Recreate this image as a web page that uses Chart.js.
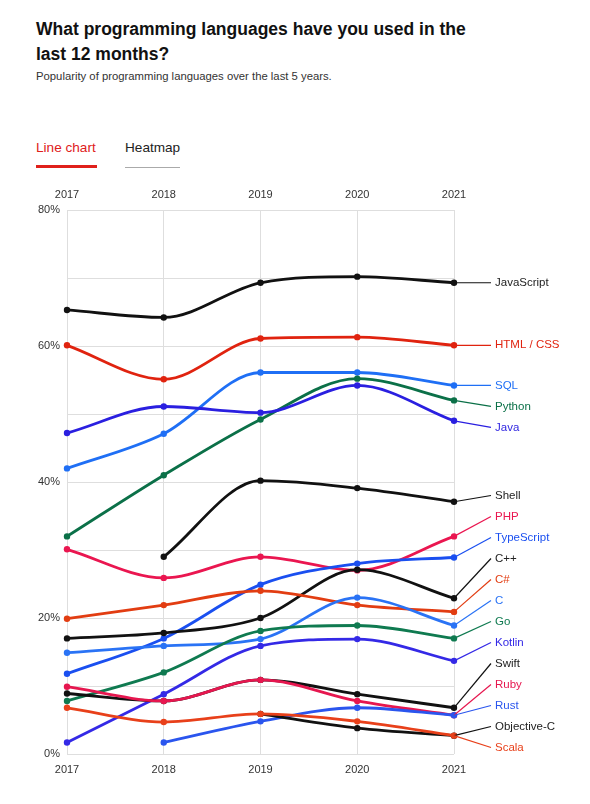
<!DOCTYPE html>
<html><head><meta charset="utf-8">
<script src="https://cdn.jsdelivr.net/npm/chart.js@4/dist/chart.umd.min.js"></script>
<style>
body{margin:0;background:#fff;font-family:'Liberation Sans',Arial,sans-serif;width:590px;height:804px;overflow:hidden;position:relative}
h1{position:absolute;left:36px;top:17px;margin:0;font-size:17.5px;line-height:25px;font-weight:bold;color:#111}
.sub{position:absolute;left:36px;top:70px;font-size:11.3px;color:#333}
.tab{position:absolute;top:139.5px;font-size:13.6px;line-height:15px}
.t1{left:36px;color:#e0201b}
.t2{left:125px;color:#222}
.u1{position:absolute;left:36px;top:165px;width:61px;height:2.5px;background:#e0201b}
.u2{position:absolute;left:125px;top:166.5px;width:55px;height:1px;background:#aaa}
#wrap{position:absolute;left:0;top:180px;width:590px;height:610px}
</style></head>
<body>
<h1>What programming languages have you used in the<br>last 12 months?</h1>
<div class="sub">Popularity of programming languages over the last 5 years.</div>
<div class="tab t1">Line chart</div><div class="u1"></div>
<div class="tab t2">Heatmap</div><div class="u2"></div>
<div id="wrap"><canvas id="c"></canvas></div>
<script>
const years = ['2017','2018','2019','2020','2021'];
const yTicks = [0, 20, 40, 60, 80];

const javascript = [65.3, 64.2, 69.3, 70.2, 69.3];
const htmlCss    = [60.1, 55.1, 61.1, 61.3, 60.1];
const sql        = [42.0, 47.1, 56.1, 56.1, 54.2];
const python     = [32.0, 41.0, 49.2, 55.2, 52.0];
const java       = [47.2, 51.1, 50.2, 54.2, 49.0];
const shell      = [null, 29.0, 40.2, 39.1, 37.1];
const php        = [30.1, 25.9, 29.0, 27.0, 32.0];
const typescript = [11.8, 17.0, 24.9, 28.0, 28.9];
const cpp        = [17.0, 17.8, 20.0, 27.1, 22.9];
const csharp     = [19.9, 21.9, 24.0, 21.9, 20.9];
const cLang      = [14.9, 15.9, 16.9, 23.0, 18.9];
const go         = [7.8, 12.0, 18.1, 18.9, 17.0];
const kotlin     = [1.7, 8.8, 15.9, 16.9, 13.7];
const swift      = [8.9, 7.8, 10.9, 8.8, 6.8];
const ruby       = [9.9, 7.8, 10.9, 7.8, 5.7];
const rust       = [null, 1.7, 4.8, 6.8, 5.7];
const objectiveC = [null, null, 5.9, 3.8, 2.7];
const scala      = [6.8, 4.7, 5.9, 4.8, 2.7];

const series = [
  ['JavaScript', javascript, '#111111'],
  ['HTML / CSS', htmlCss, '#e0230f'],
  ['SQL', sql, '#1f6ff5'],
  ['Python', python, '#0b7048'],
  ['Java', java, '#2a1fe0'],
  ['Shell', shell, '#111111'],
  ['PHP', php, '#ea1650'],
  ['TypeScript', typescript, '#1a4ff0'],
  ['C++', cpp, '#111111'],
  ['C#', csharp, '#e23d12'],
  ['C', cLang, '#2a73f5'],
  ['Go', go, '#0f7a50'],
  ['Kotlin', kotlin, '#3429e6'],
  ['Swift', swift, '#111111'],
  ['Ruby', ruby, '#e6174f'],
  ['Rust', rust, '#2a55ee'],
  ['Objective-C', objectiveC, '#111111'],
  ['Scala', scala, '#e8401a']
];

Chart.defaults.font.family = "'Liberation Sans', Arial, sans-serif";

const endLabels = {
  id: 'endLabels',
  afterDatasetsDraw(chart) {
    const {ctx, chartArea} = chart;
    const items = chart.data.datasets.map((ds, i) => {
      const meta = chart.getDatasetMeta(i);
      const pt = meta.data[meta.data.length - 1];
      return {ds, x: pt.x, y: pt.y, ly: pt.y};
    });
    const s = items.slice().sort((a, b) => a.y - b.y);
    const gap = 21, bottom = chartArea.bottom - 6.5;
    for (let k = 1; k < s.length; k++) s[k].ly = Math.max(s[k].ly, s[k-1].ly + gap);
    if (s[s.length-1].ly > bottom) s[s.length-1].ly = bottom;
    for (let k = s.length - 2; k >= 0; k--) s[k].ly = Math.min(s[k].ly, s[k+1].ly - gap);
    ctx.save();
    items.forEach(it => {
      const c = it.ds.borderColor;
      ctx.strokeStyle = c;
      ctx.lineWidth = 1.2;
      ctx.beginPath();
      ctx.moveTo(it.x, it.y);
      ctx.lineTo(chartArea.right + 37, it.ly);
      ctx.stroke();
      ctx.fillStyle = c === '#111111' ? '#222' : c;
      ctx.font = "11.5px 'Liberation Sans', Arial, sans-serif";
      ctx.textBaseline = 'middle';
      ctx.textAlign = 'left';
      ctx.fillText(it.ds.label, chartArea.right + 41, it.ly);
    });
    ctx.restore();
  }
};

new Chart(document.getElementById('c'), {
  type: 'line',
  data: {
    labels: years,
    datasets: series.map(([label, data, color], i) => ({
      label, data,
      borderColor: color,
      backgroundColor: color,
      pointBackgroundColor: color,
      pointBorderColor: color,
      borderWidth: 2.8,
      pointRadius: 3.2,
      pointBorderWidth: 0,
      cubicInterpolationMode: 'monotone',
      order: -i
    }))
  },
  options: {
    responsive: true,
    maintainAspectRatio: false,
    animation: false,
    layout: {padding: {left: 0, right: 136, top: 0, bottom: 0}},
    plugins: {legend: {display: false}, tooltip: {enabled: false}},
    scales: {
      x: {
        position: 'bottom',
        grid: {color: '#dedede', lineWidth: 1, drawTicks: false},
        border: {display: false},
        ticks: {color: '#333', font: {size: 11}, padding: 9, maxRotation: 0},
        afterFit(sc) { sc.height = 36; }
      },
      x2: {
        type: 'category',
        labels: years,
        position: 'top',
        grid: {display: false, drawTicks: false},
        border: {display: false},
        ticks: {color: '#333', font: {size: 11}, padding: 8, maxRotation: 0},
        afterFit(sc) { sc.height = 30; }
      },
      y: {
        min: 0, max: 80,
        grid: {color: '#dedede', lineWidth: 1, drawTicks: false},
        border: {display: false},
        ticks: {
          stepSize: 10,
          color: '#333',
          font: {size: 11},
          padding: 7,
          callback: v => yTicks.includes(v) ? v + '%' : ''
        },
        afterFit(sc) { sc.width = 67; }
      }
    }
  },
  plugins: [endLabels]
});
</script>
</body></html>
